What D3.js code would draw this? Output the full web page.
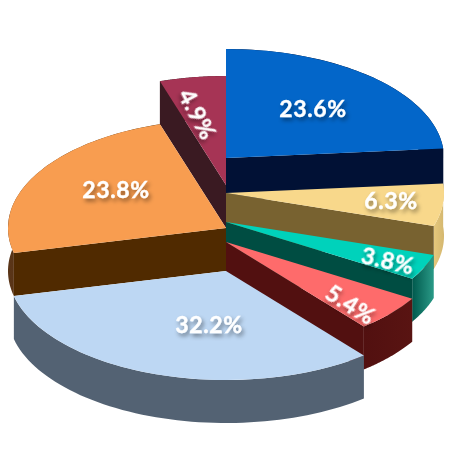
<!DOCTYPE html>
<html><head><meta charset="utf-8">
<script src="https://cdn.jsdelivr.net/npm/d3@7"></script>
<style>html,body{margin:0;padding:0;background:#fff}svg{display:block}</style>
</head><body><svg id="c" width="468" height="472"></svg>
<script>
// data
const shares = [23.6, 6.3, 3.8, 5.4, 32.2, 23.8, 4.9];
const labels = ["23.6%", "6.3%", "3.8%", "5.4%", "32.2%", "23.8%", "4.9%"];
const topColors = ["#0366c9", "#f8d88b", "#00d2bb", "#fe6b6b", "#bdd7f3", "#f89d50", "#a63455"];
const sideColors = ["#011135", "#786230", "#004d42", "#521010", "#536273", "#502a00", "#3a1a22"];
const wallColorsA = ["#011135", "#e6c87c", "#00594d", "#521010", "#536273", "#5a3518", "#3a1a22"];
const wallColorsB = ["#011135", "#d4b76f", "#2a9a87", "#591412", "#536273", "#502a00", "#3a1a22"];

// layout
const W = 468, H = 472, cx = 226, R = 218, tilt = 0.5, depth = 43;
const apexY = [158, 193, 222, 242, 271, 228, 185];
const labelAt = [[313,108,0],[391,200,0],[388,260,13],[351,304,32],[209,324,0],[116,189,0],[198,114,62]];
const drawOrder = [6, 0, 5, 1, 2, 3, 4];

const svg = d3.select("#c");
const defs = svg.append("defs");
const shadow = defs.append("filter").attr("id","ts").attr("x","-30%").attr("y","-30%").attr("width","170%").attr("height","170%");
shadow.append("feDropShadow").attr("dx",2).attr("dy",3).attr("stdDeviation",2).attr("flood-color","#000").attr("flood-opacity",.42);

const arcs = d3.pie().sort(null)(shares);
const arcGen = d3.arc().innerRadius(0).outerRadius(R);
const pt = (a, r, y0) => { const [x,y] = d3.pointRadial(a, r); return [cx + x, y0 + y * tilt]; };
const line = d3.line();

shares.forEach((_, i) => {
  const g = defs.append("linearGradient").attr("id","w"+i);
  g.append("stop").attr("offset",0).attr("stop-color",wallColorsA[i]);
  g.append("stop").attr("offset",1).attr("stop-color",wallColorsB[i]);
});

drawOrder.forEach(i => {
  const a = arcs[i], y0 = apexY[i];
  const g = svg.append("g");
  // outer wall
  const steps = d3.range(0, 61).map(k => a.startAngle + (a.endAngle - a.startAngle) * k / 60);
  const wall = steps.map(t => pt(t, R, y0)).concat(steps.slice().reverse().map(t => pt(t, R, y0 + depth)));
  g.append("path").attr("d", line(wall) + "Z").attr("fill", `url(#w${i})`);
  // radial side
  const mid = (a.startAngle + a.endAngle) / 2;
  if (!(a.startAngle < Math.PI && a.endAngle > Math.PI)) {
    const t = mid < Math.PI ? a.endAngle : a.startAngle;
    const side = [[cx,y0], pt(t,R,y0), pt(t,R,y0+depth), [cx,y0+depth]];
    g.append("path").attr("d", line(side) + "Z").attr("fill", sideColors[i]);
  }
  // top face
  g.append("path").attr("d", arcGen(a))
    .attr("transform", `translate(${cx},${y0}) scale(1,${tilt})`)
    .attr("fill", topColors[i]);
});

labels.forEach((t, i) => {
  const [x,y,r] = labelAt[i];
  svg.append("text").attr("transform", `translate(${x},${y}) rotate(${r})`)
    .attr("text-anchor","middle").attr("dominant-baseline","central")
    .attr("font-family","Lato").attr("font-weight",700).attr("font-size",23)
    .attr("letter-spacing",0.6)
    .attr("fill","#fff").attr("stroke","#fff").attr("stroke-width",0.35)
    .attr("filter","url(#ts)").text(t);
});
</script></body></html>
